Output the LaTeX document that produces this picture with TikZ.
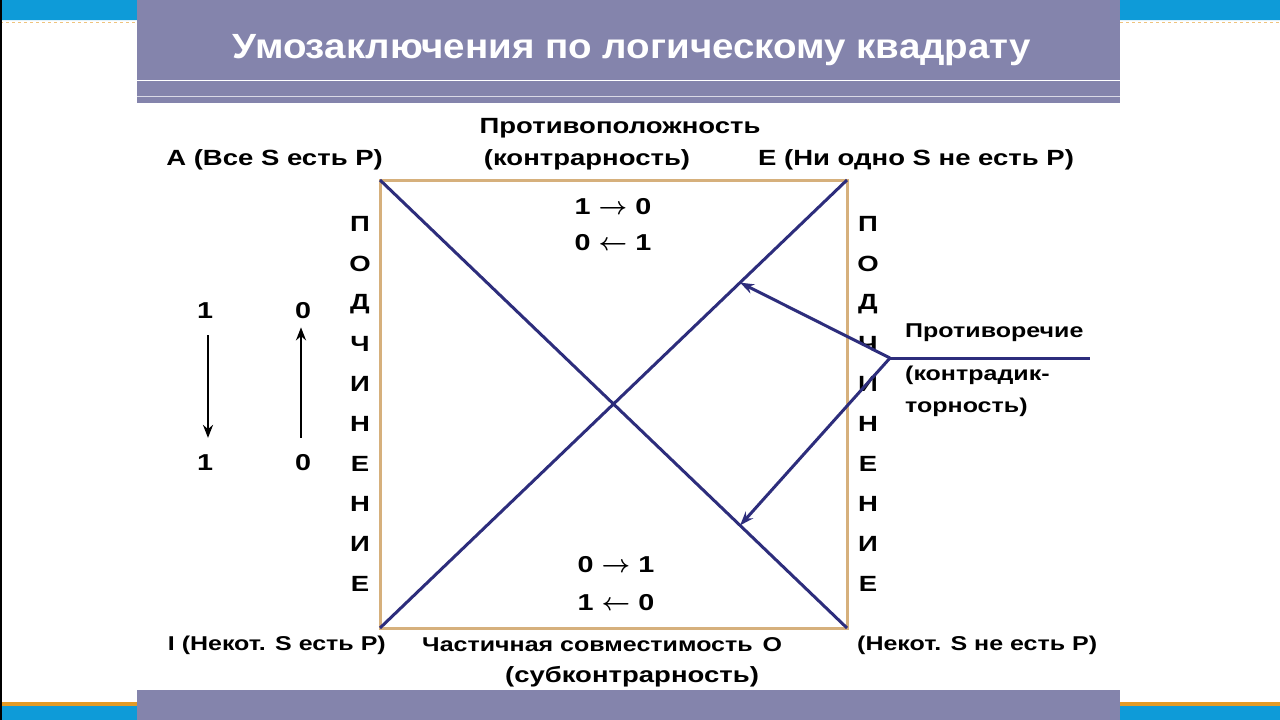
\documentclass[tikz,border=0pt]{standalone}
\usepackage{fontspec}
\setmainfont[FakeStretch=1.25]{Liberation Sans}
\newfontfamily\titlefont[FakeStretch=1.1]{Liberation Sans}
\usetikzlibrary{arrows.meta,calc}
\definecolor{bandgrey}{HTML}{8484AC}
\definecolor{barblue}{HTML}{0E9BD8}
\definecolor{barorange}{HTML}{E39B26}
\definecolor{sqtan}{HTML}{D6B07C}
\definecolor{diagblue}{HTML}{2D2D7C}
\newcommand{\ra}{\(\boldsymbol{\rightarrow}\)}
\newcommand{\la}{\(\boldsymbol{\leftarrow}\)}
\usepackage{amsmath}
\tikzset{
  lbl/.style={font=\bfseries\fontsize{20}{24}\selectfont, inner sep=0pt},
  biglbl/.style={lbl, font=\bfseries\fontsize{22}{26}\selectfont},
  numlbl/.style={lbl, font=\bfseries\fontsize{23}{26}\selectfont},
  diag/.style={draw=diagblue, line width=3pt},
  ptr/.style={draw=diagblue, line width=3pt, -{Stealth[length=14pt,width=10pt]}},
  subarrow/.style={black, line width=2.8pt, -{Stealth[length=13pt,width=10pt]}}
}
\begin{document}
\begin{tikzpicture}[x=1pt,y=-1pt]
	\useasboundingbox[fill=white] (0,0) rectangle (1280,720);
	% slide frame
	\fill[barblue] (0,0) rectangle (137,20) (1120,0) rectangle (1280,20);
	\draw[barorange!60, dashed] (0,22) -- (137,22) (1120,22) -- (1280,22);
	\fill[barorange] (0,702) rectangle (137,706) (1120,702) rectangle (1280,706);
	\fill[barblue] (0,706) rectangle (137,720) (1120,706) rectangle (1280,720);
	\draw[black, line width=1.5pt] (1,0) -- (1,720);
	\fill[bandgrey] (137,0) rectangle (1120,103);
	\draw[white, line width=1pt] (137,80) -- (1120,80);
	\draw[white!70!bandgrey, line width=0.8pt] (137,96) -- (1120,96);
	\fill[bandgrey] (137,690) rectangle (1120,720);
	\node[font=\titlefont\bfseries\fontsize{35}{40}\selectfont, text=white] (title)
	  at (632,50) {Умозаключения по логическому квадрату};
	% square
	\coordinate (A) at (380,180);
	\coordinate (E) at (847,180);
	\coordinate (I) at (380,628);
	\coordinate (O) at (847,628);
	\draw[sqtan, line width=3pt] (A) rectangle (O);
	\draw[diag] (A) -- (O) (I) -- (E);
	% corner labels
	\node[biglbl, anchor=east] (labA) at (383,160) {A (Все S есть P)};
	\node[biglbl, anchor=west] (labE) at (758,160) {E (Ни одно S не есть P)};
	\node[lbl, anchor=east] (labI) at (386,645) {I (Некот. S есть P)};
	\node[lbl, anchor=west] (labO) at (857,645) {(Некот. S не есть P)};
	\node[biglbl] (contr) at (620,128) {Противоположность};
	\node[biglbl] (contr2) at (587,160) {(контрарность)};
	\node[lbl, anchor=west] (subc) at (422,645) {Частичная совместимость\enspace O};
	\node[biglbl] (subc2) at (632,677) {(субконтрарность)};
	\node[numlbl] (top1) at (613,207) {1 \ra\ 0};
	\node[numlbl] (top2) at (613,243) {0 \la\ 1};
	\node[numlbl] (bot1) at (616,565) {0 \ra\ 1};
	\node[numlbl] (bot2) at (616,603) {1 \la\ 0};
	% subalternation
	\foreach \ch [count=\i] in {П,О,Д,Ч,И,Н,Е,Н,И,Е} {
	  \node[biglbl] (subL\i) at (360,184+40*\i) {\ch};
	  \node[biglbl] (subR\i) at (868,184+40*\i) {\ch};
	}
	\node[numlbl] (one1) at (205,311) {1};
	\node[numlbl] (zero1) at (303,311) {0};
	\node[numlbl] (one2) at (205,463) {1};
	\node[numlbl] (zero2) at (303,463) {0};
	\draw[subarrow] ([xshift=3pt,yshift=-16pt]one1.south) -- ([xshift=3pt,yshift=17pt]one2.north);
	\draw[subarrow] ([xshift=-2pt,yshift=17pt]zero2.north) -- ([xshift=-2pt,yshift=-8pt]zero1.south);
	% contradiction
	\node[lbl, anchor=west] (cdx1) at (905,333) {Противоречие};
	\node[lbl, anchor=west] (cdx2) at (905,375) {(контрадик-};
	\node[lbl, anchor=west] (cdx3) at (905,407) {торность)};
	\coordinate (fork) at (890,358);
	\coordinate (tail) at (1090,358);
	\coordinate (hitE) at ($(I)!0.771!(E)$);
	\coordinate (hitO) at ($(A)!0.771!(O)$);
	\draw[diag] (fork) -- (tail);
	\draw[ptr] (fork) -- (hitE);
	\draw[ptr] (fork) -- (hitO);
\end{tikzpicture}
\end{document}
